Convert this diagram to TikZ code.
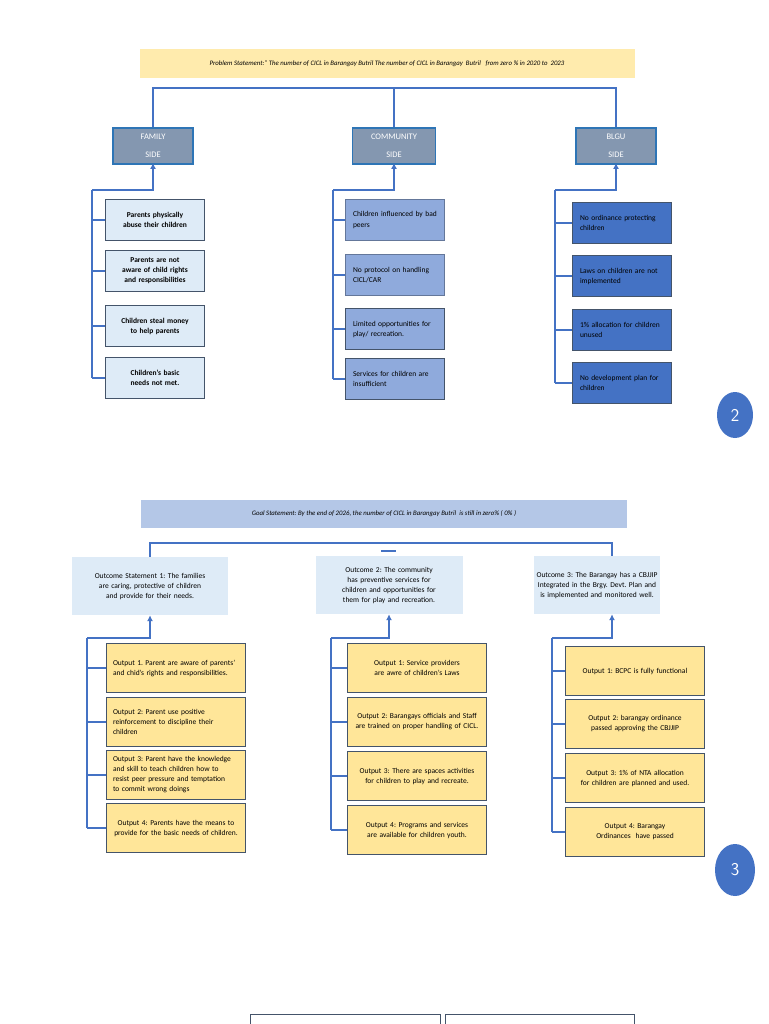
\documentclass[tikz,border=0pt]{standalone}
\usepackage{fontspec}
\setmainfont{Carlito}
\usetikzlibrary{arrows.meta,shapes.geometric}
\definecolor{lineblue}{HTML}{4472C4}
\definecolor{sideblue}{HTML}{2E75B6}
\definecolor{sidegray}{HTML}{8497B0}
\definecolor{paleblue}{HTML}{DEEBF7}
\definecolor{midblue}{HTML}{8FAADC}
\definecolor{goalblue}{HTML}{B4C7E7}
\definecolor{softyellow}{HTML}{FFE699}
\definecolor{edgegray}{HTML}{44546A}
\begin{document}
\hyphenpenalty=10000
\frenchspacing
\begin{tikzpicture}[x=1pt,y=-1pt,
    every node/.style={font=\fontsize{7.5}{10}\selectfont, align=center, inner sep=2pt},
    side/.style={draw=sideblue, line width=1.8pt, fill=sidegray, text=white, minimum width=80, minimum height=36, font=\fontsize{8.5}{18}\selectfont},
    cause/.style={draw=edgegray, thick, minimum width=99, minimum height=41, text width=84},
    output/.style={draw=edgegray, thick, fill=softyellow, minimum width=139, minimum height=49, text width=126},
    outcome/.style={fill=paleblue, text width=140, minimum height=58},
    link/.style={lineblue, line width=1.8pt},
    up/.style={link, -{Latex[length=6pt,width=6pt]}}]
  \useasboundingbox (0,0) rectangle (768,1024);

  % problem tree
  \node[fill=softyellow!80, minimum width=495, minimum height=29, font=\itshape\fontsize{6.8}{8}\selectfont] (problem) at (387,64)
    {Problem Statement:`` The number of CICL in Barangay Butril The number of CICL in Barangay\ \ Butril\ \ \ from zero \% in 2020 to\ \ 2023};

  \node[side] (family) at (153,146) {FAMILY\\SIDE};
  \node[side, minimum width=83] (community) at (394,146) {COMMUNITY\\SIDE};
  \node[side] (blgu) at (616,146) {BLGU\\SIDE};
  \draw[link] (family.north) -- ++(0,-39) -| (blgu.north);
  \draw[link] (community.north) -- ++(0,-39);

  \node[cause, fill=paleblue] (f1) at (155,220) {\bfseries Parents physically abuse their children};
  \node[cause, fill=paleblue] (f2) at (155,271) {\bfseries Parents are not aware of child rights and responsibilities};
  \node[cause, fill=paleblue] (f3) at (155,326) {\bfseries Children steal money to help parents};
  \node[cause, fill=paleblue] (f4) at (155,378) {\bfseries Children's basic needs not met.};

  \node[cause, fill=midblue, draw=midblue!70!black, align=left] (c1) at (395,220) {Children influenced by bad peers};
  \node[cause, fill=midblue, draw=midblue!70!black, align=left] (c2) at (395,275) {No protocol on handling CICL/CAR};
  \node[cause, fill=midblue, align=left] (c3) at (395,329) {Limited opportunities for play/ recreation.};
  \node[cause, fill=midblue, align=left] (c4) at (395,379) {Services for children are insufficient};

  \node[cause, fill=lineblue, align=left] (b1) at (622,223) {No ordinance protecting children};
  \node[cause, fill=lineblue, align=left] (b2) at (622,276) {Laws on children are not implemented};
  \node[cause, fill=lineblue, align=left] (b3) at (622,330) {1\% allocation for children unused};
  \node[cause, fill=lineblue, align=left] (b4) at (622,383) {No development plan for children};

  \coordinate (fs) at (92,190);
  \coordinate (cs) at (333,190);
  \coordinate (bs) at (555,190);
  \draw[up] (fs) -| ([yshift=2]family.south);
  \draw[up] (cs) -| ([yshift=2]community.south);
  \draw[up] (bs) -| ([yshift=2]blgu.south);
  \foreach \s/\n in {fs/f,cs/c,bs/b} {
    \draw[link] (\s) -- (\s |- \n4.west);
    \foreach \i in {1,...,4}
      \draw[link] (\s |- \n\i.west) -- (\n\i.west);
  }

  \node[ellipse, fill=lineblue, minimum width=36, minimum height=46, text=white, font=\sffamily\fontsize{18}{20}\selectfont] (page2) at (735,415) {2};

  % objective tree
  \node[fill=goalblue, minimum width=486, minimum height=28, font=\itshape\fontsize{6.8}{8}\selectfont] (goal) at (384,514)
    {Goal Statement: By the end of 2026, the number of CICL in Barangay Butril\ \ is still in zero\% ( 0\% )};

  \node[outcome, minimum width=156] (o1) at (150,586) {Outcome Statement 1: The families are caring, protective of children and provide for their needs.};
  \node[outcome, text width=132, minimum width=147] (o2) at (389,585) {Outcome 2: The community has preventive services for children and opportunities for them for play and recreation.};
  \node[outcome, text width=122, minimum width=126] (o3) at (597,585) {Outcome 3: The Barangay has a CBJJIP Integrated in the Brgy. Devt. Plan and is implemented and monitored well.};
  \draw[link] (o1.north) -- ++(0,-14) -| ([xshift=15]o3.north);
  \draw[link] (381,551) -- (396,551);

  \node[output, align=left] (p1) at (176,668) {Output 1. Parent are aware of parents' and chid's rights and responsibilities.};
  \node[output, align=left] (p2) at (176,722) {Output 2: Parent use positive reinforcement to discipline their children};
  \node[output, align=left] (p3) at (176,775) {Output 3: Parent have the knowledge and skill to teach children how to resist peer pressure and temptation to commit wrong doings};
  \node[output] (p4) at (176,828) {Output 4: Parents have the means to provide for the basic needs of children.};

  \node[output] (q1) at (417,668) {Output 1: Service providers are awre of children's Laws};
  \node[output] (q2) at (417,722) {Output 2: Barangays officials and Staff are trained on proper handling of CICL.};
  \node[output] (q3) at (417,776) {Output 3: There are spaces activities for children to play and recreate.};
  \node[output] (q4) at (417,830) {Output 4: Programs and services are available for children youth.};

  \node[output] (r1) at (635,671) {Output 1: BCPC is fully functional};
  \node[output] (r2) at (635,724) {Output 2: barangay ordinance passed approving the CBJJIP};
  \node[output] (r3) at (635,778) {Output 3: 1\% of NTA allocation for children are planned and used.};
  \node[output] (r4) at (635,832) {Output 4: Barangay Ordinances\ \ have passed};

  \coordinate (ps) at (87,638);
  \coordinate (qs) at (331,638);
  \coordinate (rs) at (552,638);
  \draw[up] (ps) -| (o1.south);
  \draw[up] (qs) -| (o2.south);
  \draw[up] (rs) -| ([xshift=15]o3.south);
  \foreach \s/\n in {ps/p,qs/q,rs/r} {
    \draw[link] (\s) -- (\s |- \n4.west);
    \foreach \i in {1,...,4}
      \draw[link] (\s |- \n\i.west) -- (\n\i.west);
  }

  \node[ellipse, fill=lineblue, minimum width=40, minimum height=52, text=white, font=\sffamily\fontsize{18}{20}\selectfont] (page3) at (735,870) {3};

  % next table, cut off at the page edge
  \draw[edgegray, thick] (250,1030) |- (440,1014) -- (440,1030);
  \draw[edgegray, thick] (445,1030) |- (634,1014) -- (634,1030);
\end{tikzpicture}
\end{document}
